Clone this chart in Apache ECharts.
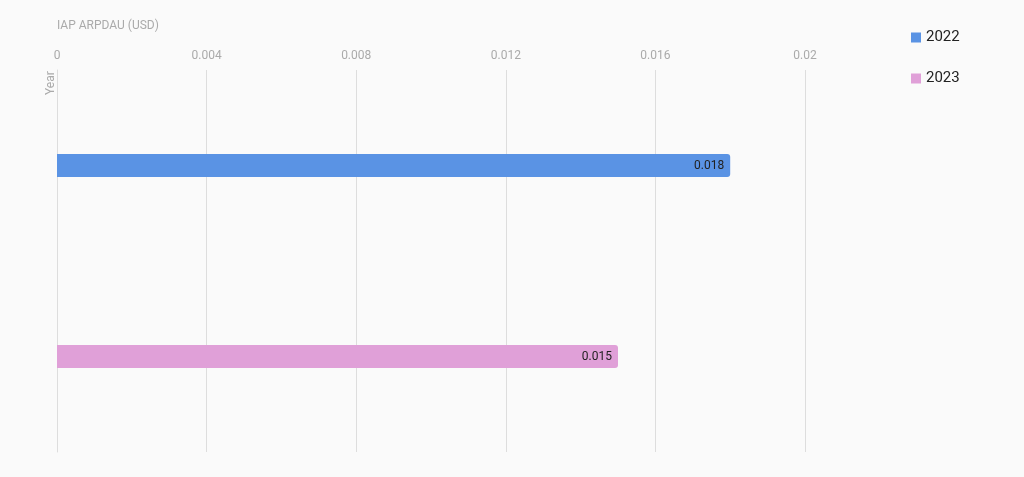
<!DOCTYPE html>
<html><head><meta charset="utf-8">
<script src="https://cdn.jsdelivr.net/npm/echarts@6/dist/echarts.min.js"></script>
<style>html,body{margin:0;padding:0;background:#fafafa}#c{width:1024px;height:477px}</style>
</head><body><div id="c"></div>
<script>
const categories = ['2022', '2023'];
const values2022 = [0.018, '-'];
const values2023 = ['-', 0.015];
const xTicks = [0, 0.004, 0.008, 0.012, 0.016, 0.02];
const chart = echarts.init(document.getElementById('c'));
const lbl = {show:true, position:'insideRight', color:'#222', fontSize:12, fontFamily:'Roboto, Arial, sans-serif', distance:6};
chart.setOption({
  backgroundColor:'#fafafa',
  textStyle:{fontFamily:'Roboto, Arial, sans-serif'},
  title:{text:'IAP ARPDAU (USD)', left:52, top:15, textStyle:{color:'#aaa', fontSize:12, fontWeight:'normal'}},
  legend:{orient:'vertical', left:906, top:25, itemWidth:10, itemHeight:10, itemGap:26, icon:'rect',
    textStyle:{fontSize:15, color:'#222'}, data:['2022','2023']},
  grid:{left:57, right:219, top:70, bottom:25},
  xAxis:{type:'value', position:'top', min:0, max:0.02, interval:0.004,
    axisLabel:{color:'#aaa', fontSize:12, formatter:v=>String(+v.toFixed(3))},
    splitLine:{lineStyle:{color:'#ddd'}}, axisLine:{show:false}, axisTick:{show:false}},
  yAxis:{type:'category', data:categories, inverse:true, axisLabel:{show:false}, axisTick:{show:false},
    axisLine:{show:true, lineStyle:{color:'#ddd'}},
    name:'Year', nameLocation:'start', nameRotate:90, nameGap:-25,
    nameTextStyle:{color:'#aaa', fontSize:12, padding:[0,0,0,0], align:'left', verticalAlign:'bottom'}},
  series:[
    {name:'2022', type:'bar', data:values2022, barWidth:23, barGap:'-100%', itemStyle:{color:'#5a93e4', borderRadius:[0,3,3,0]}, label:lbl},
    {name:'2023', type:'bar', data:values2023, barWidth:23, itemStyle:{color:'#e0a0d8', borderRadius:[0,3,3,0]}, label:lbl}
  ]
});
</script></body></html>
